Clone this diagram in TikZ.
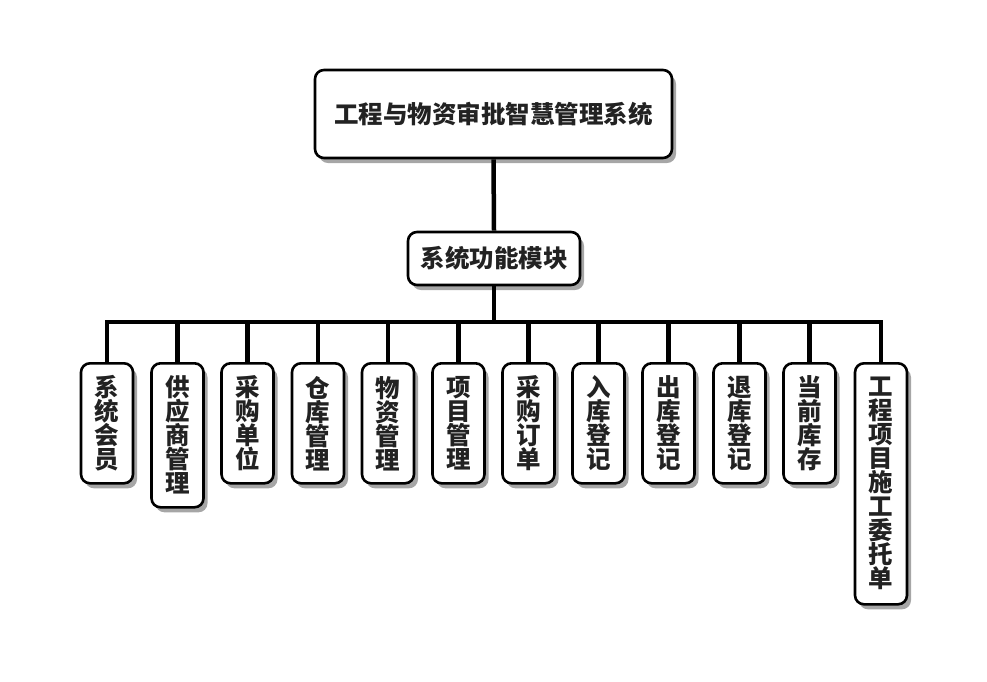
\documentclass[tikz,border=0pt]{standalone}
\usepackage{fontspec}
\setmainfont{Noto Sans CJK SC}
\usetikzlibrary{shadows}
\definecolor{txt}{HTML}{222222}
\tikzset{
  box/.style={draw=black, line width=2.6pt, rounded corners=9pt, fill=white,
    text=txt, font=\bfseries\fontsize{24.5}{24}\selectfont, inner sep=0pt,
    drop shadow={shadow xshift=4pt, shadow yshift=-5pt, fill=black, opacity=0.35}},
  leaf/.style={box, minimum width=52pt, anchor=north, align=center},
  conn/.style={line width=4.5pt, draw=black, line join=miter, line cap=butt}
}
\begin{document}
\begin{tikzpicture}[x=1pt,y=-1pt]
\useasboundingbox (0,0) rectangle (987,681);
\node[box, minimum width=357pt, minimum height=88pt] (top) at (493.5,114) {工程与物资审批智慧管理系统};
\node[box, minimum width=172pt, minimum height=53pt] (mid) at (494,258.5) {系统功能模块};
\coordinate (j) at (494,322);
\node[leaf, minimum height=120pt] (l1) at (107,362) {系\\统\\会\\员};
\node[leaf, minimum height=144pt] (l2) at (177.5,362) {供\\应\\商\\管\\理};
\node[leaf, minimum height=120pt] (l3) at (247.5,362) {采\\购\\单\\位};
\node[leaf, minimum height=120pt] (l4) at (318,362) {仓\\库\\管\\理};
\node[leaf, minimum height=120pt] (l5) at (388,362) {物\\资\\管\\理};
\node[leaf, minimum height=120pt] (l6) at (458.5,362) {项\\目\\管\\理};
\node[leaf, minimum height=120pt] (l7) at (528.5,362) {采\\购\\订\\单};
\node[leaf, minimum height=120pt] (l8) at (598.5,362) {入\\库\\登\\记};
\node[leaf, minimum height=120pt] (l9) at (668.5,362) {出\\库\\登\\记};
\node[leaf, minimum height=120pt] (l10) at (739.5,362) {退\\库\\登\\记};
\node[leaf, minimum height=120pt] (l11) at (809.5,362) {当\\前\\库\\存};
\node[leaf, minimum height=241pt] (l12) at (881,362) {工\\程\\项\\目\\施\\工\\委\\托\\单};
\draw[conn] (top.south) -- (mid.north);
\draw[conn] (mid.south) -- (j);
\draw[conn] (l1.north) |- (j) -| (l12.north);
\foreach \k in {2,...,11} { \draw[conn] (l\k.north) -- (l\k.north |- j); }
\end{tikzpicture}
\end{document}
